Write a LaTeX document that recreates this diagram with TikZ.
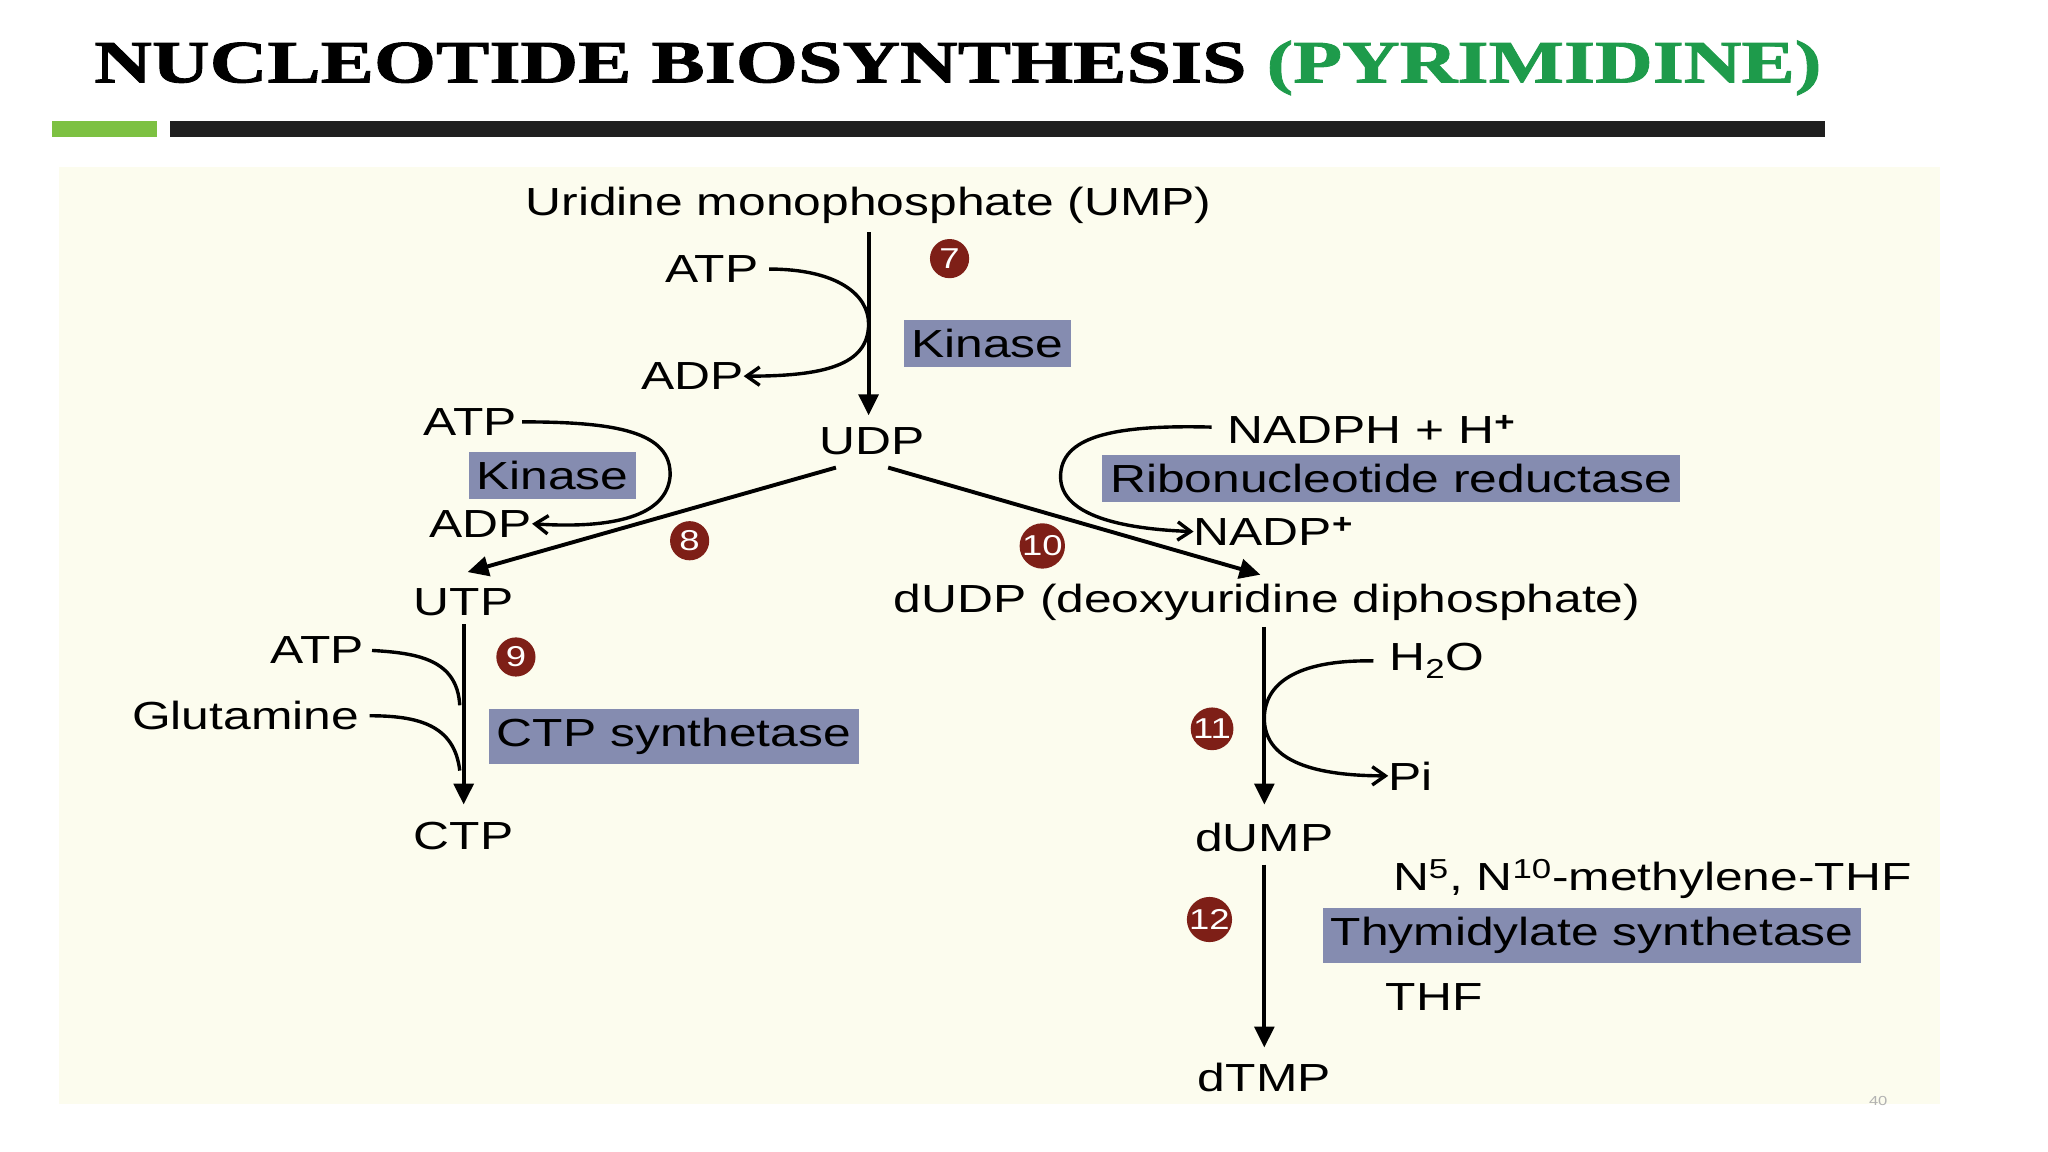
\documentclass[tikz,border=0pt]{standalone}
\usepackage{fontspec}
\setmainfont[FakeStretch=1.27]{Liberation Sans}
\newfontfamily\titlefont[FakeStretch=1.33,FakeBold=1.5]{Liberation Serif}
\usetikzlibrary{arrows.meta}
\definecolor{boxc}{HTML}{858CB0}
\definecolor{numc}{HTML}{7E1F17}
\definecolor{greenc}{HTML}{1E9B4B}
\definecolor{barg}{HTML}{7DC142}
\definecolor{bgc}{HTML}{FCFCEE}
\begin{document}
\begin{tikzpicture}[x=1pt,y=-1pt,
  lbl/.style={font=\fontsize{30}{32}\selectfont, inner sep=0pt},
  enz/.style={font=\fontsize{30}{32}\selectfont, fill=boxc, inner xsep=6pt, inner ysep=7pt},
  num/.style={circle, fill=numc, text=white, font=\fontsize{22}{24}\selectfont, inner sep=0pt, minimum size=30pt},
  arr/.style={line width=3pt, -{Triangle[length=16pt,width=15pt]}},
  crv/.style={line width=2.6pt, -{Straight Barb[length=10pt,width=14pt]}},
  ln/.style={line width=2.6pt}]
\useasboundingbox (0,0) rectangle (1568,882);
\fill[white] (0,0) rectangle (1568,882);
\fill[bgc] (45,128) rectangle (1485,845);
% title
\node[anchor=west, inner sep=0pt, font=\titlefont\fontsize{46}{48}\selectfont\bfseries] (title) at (72,52) {NUCLEOTIDE BIOSYNTHESIS \textcolor{greenc}{(PYRIMIDINE)}};
\fill[barg] (40,93) rectangle (120,105);
\fill[black!88] (130,93) rectangle (1397,105);
\node[text=black!30, font=\fontsize{10}{12}\selectfont] (pg) at (1438,843) {40};
% nodes
\node[lbl] (ump) at (665,157) {Uridine monophosphate (UMP)};
\node[lbl] (atp1) at (545,206) {ATP};
\node[lbl] (adp1) at (530,288) {ADP};
\node[lbl] (udp) at (668,338) {UDP};
\node[enz] (kin1) at (756,263) {Kinase};
\node[num] (n7) at (727,198) {7};
\node[lbl] (atp2) at (360,323) {ATP};
\node[enz] (kin2) at (423,364) {Kinase};
\node[lbl] (adp2) at (368,401) {ADP};
\node[num] (n8) at (528,414) {8};
\node[lbl] (utp) at (355,461) {UTP};
\node[lbl] (nadph) at (1050,329) {NADPH + H\textsuperscript{\textbf{+}}};
\node[enz] (rnr) at (1065,366) {Ribonucleotide reductase};
\node[lbl] (nadp) at (975,407) {NADP\textsuperscript{\textbf{+}}};
\node[num] (n10) at (798,418) {10};
\node[lbl] (dudp) at (970,461) {dUDP (deoxyuridine diphosphate)};
\node[lbl] (atp3) at (243,498) {ATP};
\node[lbl] (glu) at (188,548) {Glutamine};
\node[num] (n9) at (395,503) {9};
\node[enz] (ctps) at (516,564) {CTP synthetase};
\node[lbl] (ctp) at (355,640) {CTP};
\node[lbl] (h2o) at (1100,506) {H\textsubscript{2}O};
\node[lbl] (pi) at (1080,594) {Pi};
\node[num] (n11) at (928,558) {11};
\node[lbl] (dump) at (968,641) {dUMP};
\node[lbl] (meth) at (1265,673) {N\textsuperscript{5}, N\textsuperscript{10}-methylene-THF};
\node[enz] (ts) at (1219,716) {Thymidylate synthetase};
\node[lbl] (thf) at (1098,763) {THF};
\node[num] (n12) at (926,704) {12};
\node[lbl] (dtmp) at (968,825) {dTMP};
% main arrows
\draw[arr] (665,178) -- (665,318);
\draw[arr] (640,358) -- (358,438);
\draw[arr] (680,358) -- (965,440);
\draw[arr] (355,478) -- (355,616);
\draw[arr] (968,480) -- (968,616);
\draw[arr] (968,662) -- (968,802);
% side curves
\draw[crv] (atp1.east) ++(8,0) .. controls (640,206) and (665,225) .. (665,248) .. controls (665,280) and (630,288) .. (adp1.east);
\draw[crv] (atp2.east) ++(4,0) .. controls (470,323) and (515,330) .. (513,365) .. controls (510,395) and (470,405) .. (adp2.east);
\draw[crv] (nadph.west) ++(-12,-2) .. controls (850,325) and (812,335) .. (812,365) .. controls (812,395) and (860,405) .. (nadp.west);
\draw[ln] (atp3.east) ++(6,0) .. controls (320,500) and (350,505) .. (352,540);
\draw[ln] (glu.east) ++(8,0) .. controls (320,548) and (348,555) .. (352,590);
\draw[crv] (h2o.west) ++(-12,0) .. controls (990,505) and (968,525) .. (968,550) .. controls (968,580) and (1000,594) .. (pi.west);
\end{tikzpicture}
\end{document}
